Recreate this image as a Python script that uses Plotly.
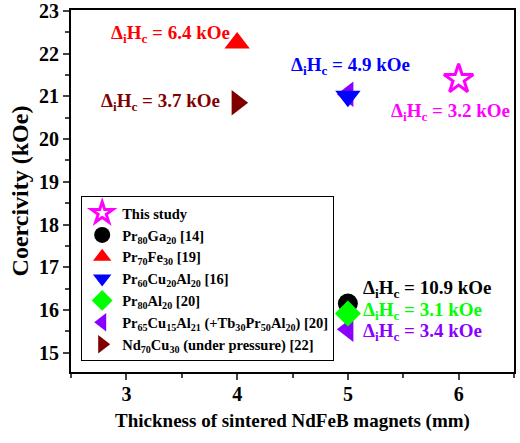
import plotly.graph_objects as go

# sample data (thickness mm, coercivity kOe)
names = ['This study',
         'Pr<sub>80</sub>Ga<sub>20</sub> [14]',
         'Pr<sub>70</sub>Fe<sub>30</sub> [19]',
         'Pr<sub>60</sub>Cu<sub>20</sub>Al<sub>20</sub> [16]',
         'Pr<sub>80</sub>Al<sub>20</sub> [20]',
         'Pr<sub>65</sub>Cu<sub>15</sub>Al<sub>21</sub> (+Tb<sub>30</sub>Pr<sub>50</sub>Al<sub>20</sub>) [20]',
         'Nd<sub>70</sub>Cu<sub>30</sub> (under pressure) [22]']
xs = [[6], [5], [4], [5], [5], [5, 5], [4]]
ys = [[21.4], [16.15], [22.25], [21.0], [15.92], [15.55, 21.05], [20.85]]
symbols = ['star-open', 'circle', 'triangle-up', 'triangle-down', 'diamond', 'triangle-left', 'triangle-right']
colors = ['#ff00ff', '#000000', '#ff0000', '#0000ff', '#00ff00', '#8a00ff', '#800000']
sizes = [22, 20, 22, 22, 20, 22, 22]
draw_order = [0, 1, 2, 5, 3, 4, 6]

# delta Hc labels
lab_text = ['6.4', '3.7', '4.9', '3.2', '10.9', '3.1', '3.4']
lab_x = [3.95, 3.86, 4.47, 6.48, 5.12, 5.12, 5.12]
lab_y = [22.47, 20.86, 21.72, 20.63, 16.49, 15.98, 15.49]
lab_anchor = ['right', 'right', 'left', 'right', 'left', 'left', 'left']
lab_color = ['#ff0000', '#800000', '#0000ff', '#ff00ff', '#000000', '#00ff00', '#8a00ff']

FONT = 'Liberation Serif'

fig = go.Figure()

for i in draw_order:
    fig.add_trace(go.Scatter(
        x=xs[i], y=ys[i],
        mode='markers',
        name=names[i],
        legendrank=i + 1,
        marker=dict(symbol=symbols[i], color=colors[i], size=sizes[i],
                    line=dict(width=3 if i == 0 else 0, color=colors[i]))
    ))

for t, x, y, a, c in zip(lab_text, lab_x, lab_y, lab_anchor, lab_color):
    fig.add_annotation(x=x, y=y, xanchor=a, yanchor='middle', showarrow=False,
                       text='Δ<sub>i</sub>H<sub>c</sub> = ' + t + ' kOe',
                       font=dict(family=FONT, size=19, color=c, weight='bold'))

fig.update_layout(
    width=520, height=443,
    margin=dict(l=71, r=6, t=10, b=71),
    plot_bgcolor='white',
    paper_bgcolor='white',
    font=dict(family=FONT, color='black', weight='bold'),
    showlegend=True,
    legend=dict(x=0.023, y=0.03, xanchor='left', yanchor='bottom',
                traceorder='normal',
                bordercolor='black', borderwidth=1, bgcolor='white',
                font=dict(family=FONT, size=14.5, weight='bold'),
                tracegroupgap=0),
    xaxis=dict(range=[2.5, 6.5], tickvals=[3, 4, 5, 6], automargin=False,
               showline=True, linecolor='black', linewidth=2, mirror=True,
               ticks='outside', ticklen=6, tickwidth=2, showgrid=False, zeroline=False,
               ticklabelstandoff=-3,
               minor=dict(dtick=0.5, ticks='outside', ticklen=4, tickwidth=2),
               tickfont=dict(family=FONT, size=20, weight='bold'),
               title=dict(text='Thickness of sintered NdFeB magnets (mm)', standoff=10,
                          font=dict(family=FONT, size=19, weight='bold'))),
    yaxis=dict(range=[14.55, 23.02], tickvals=list(range(15, 24)), automargin=False,
               showline=True, linecolor='black', linewidth=2, mirror=True,
               ticks='outside', ticklen=6, tickwidth=2, showgrid=False, zeroline=False,
               ticklabeloverflow='allow',
               minor=dict(dtick=0.5, ticks='outside', ticklen=4, tickwidth=2),
               tickfont=dict(family=FONT, size=20, weight='bold'),
               title=dict(text='Coercivity (kOe)', standoff=4,
                          font=dict(family=FONT, size=24, weight='bold')))
)

fig.write_html("out.html", config={'displayModeBar': False},
               post_script="document.body.style.margin='0';")
